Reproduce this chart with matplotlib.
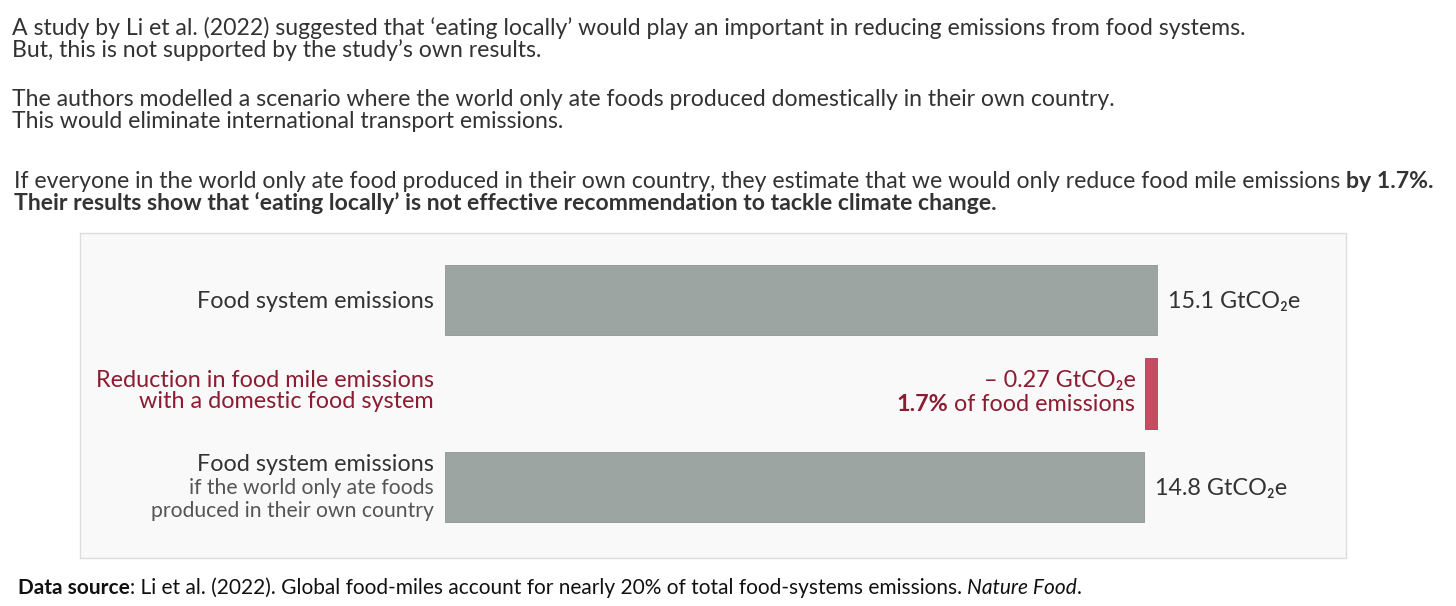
import matplotlib
matplotlib.use("Agg")
import matplotlib.pyplot as plt
from matplotlib.patches import Rectangle

plt.rcParams['font.family'] = ['Lato', 'DejaVu Sans']

# data (GtCO2e)
total_emissions = 15.1
food_mile_cut = 0.27
domestic_emissions = 14.8
cut_share = 1.7

categories = ["Food system emissions",
              "Reduction in food mile emissions\nwith a domestic food system",
              "Food system emissions"]
bottom_note = ["if the world only ate foods", "produced in their own country"]

W, H = 1456, 606
GREY = '#9ca5a2'
RED_BAR = '#c44d62'
RED_TXT = '#8c1c32'
DARK = '#333333'
MID = '#555555'
UNIT = " GtCO\u2082e"


def fx(px):
    return px / W


def fy(py):
    return 1 - py / H


def runs(fig, renderer, x, y, pieces, size, ha='left'):
    """Writes one line made of pieces (text, weight, style, color) on a
    shared baseline at pixel y."""
    if ha == 'right':
        pieces = list(reversed(pieces))
    pos = x
    for txt, wt, st, col in pieces:
        t = fig.text(fx(pos), fy(y), txt, fontsize=size, fontweight=wt,
                     fontstyle=st, color=col, va='baseline', ha=ha)
        bb = t.get_window_extent(renderer)
        pos = bb.x1 if ha == 'left' else bb.x0
    return pos


fig = plt.figure(figsize=(W / 100, H / 100), dpi=100)
fig.patch.set_facecolor('white')
renderer = fig.canvas.get_renderer()

# header text
fs = 16.6
fig.text(fx(12), fy(35), "A study by Li et al. (2022) suggested that \u2018eating locally\u2019 "
         "would play an important in reducing emissions from food systems.",
         fontsize=fs, color=DARK, va='baseline')
fig.text(fx(12), fy(57), "But, this is not supported by the study\u2019s own results.",
         fontsize=fs, color=DARK, va='baseline')
fig.text(fx(12), fy(106), "The authors modelled a scenario where the world only ate foods "
         "produced domestically in their own country.",
         fontsize=fs, color=DARK, va='baseline')
fig.text(fx(12), fy(128), "This would eliminate international transport emissions.",
         fontsize=fs, color=DARK, va='baseline')
runs(fig, renderer, 14, 188, [
    ("If everyone in the world only ate food produced in their own country, "
     "they estimate that we would only reduce food mile emissions ",
     'normal', 'normal', DARK),
    ("by %.1f%%." % cut_share, 'bold', 'normal', DARK)], fs)
fig.text(fx(14), fy(210), "Their results show that \u2018eating locally\u2019 is not "
         "effective recommendation to tackle climate change.",
         fontsize=fs, color=DARK, va='baseline', fontweight='bold')

# panel background
fig.patches.append(Rectangle((fx(80), fy(558)), (1346 - 80) / W, (558 - 233) / H,
                             transform=fig.transFigure, facecolor='#f9f9f9',
                             edgecolor='#dcdcdc', linewidth=1, zorder=-1))

ax = fig.add_axes([fx(445), fy(558), (1158 - 445) / W, (558 - 233) / H])
ax.set_xlim(0, total_emissions)
ax.set_ylim(2.76, -0.717)
ax.axis('off')

ax.barh(0, total_emissions, height=0.75, color=GREY, edgecolor='#8e9794', linewidth=0.6)
ax.barh(1, food_mile_cut, left=total_emissions - food_mile_cut, height=0.75,
        color=RED_BAR, edgecolor='#b03f55', linewidth=0.6)
ax.barh(2, domestic_emissions, height=0.75, color=GREY, edgecolor='#8e9794', linewidth=0.6)

lfs = 16.8
ax.annotate(categories[0], xy=(0, 0), xytext=(-8, -1), textcoords='offset points',
            ha='right', va='center', fontsize=lfs, color=DARK)
ax.annotate(categories[1], xy=(0, 1), xytext=(-8, 2), textcoords='offset points',
            ha='right', va='center', fontsize=lfs, color=RED_TXT, linespacing=1.0)
ax.annotate(categories[2], xy=(0, 2), xytext=(-8, 16), textcoords='offset points',
            ha='right', va='center', fontsize=lfs, color=DARK)
ax.annotate(bottom_note[0], xy=(0, 2), xytext=(-8, -1), textcoords='offset points',
            ha='right', va='center', fontsize=15.2, color=MID)
ax.annotate(bottom_note[1], xy=(0, 2), xytext=(-8, -17), textcoords='offset points',
            ha='right', va='center', fontsize=15.2, color=MID)

ax.annotate("%.1f%s" % (total_emissions, UNIT), xy=(total_emissions, 0),
            xytext=(7, -1), textcoords='offset points', ha='left', va='center',
            fontsize=lfs, color=DARK)
ax.annotate("%.1f%s" % (domestic_emissions, UNIT), xy=(domestic_emissions, 2),
            xytext=(8, -1), textcoords='offset points', ha='left', va='center',
            fontsize=lfs, color=DARK)
ax.annotate("\u2013 %.2f%s" % (food_mile_cut, UNIT),
            xy=(total_emissions - food_mile_cut, 1), xytext=(-7, 9),
            textcoords='offset points', ha='right', va='center',
            fontsize=lfs, color=RED_TXT)
# second line of the red label: bold share then regular text
cut_px = ax.transData.transform((total_emissions - food_mile_cut, 1))
runs(fig, renderer, cut_px[0] - 10, H - cut_px[1] + 18, [
    ("%.1f%%" % cut_share, 'bold', 'normal', RED_TXT),
    (" of food emissions", 'normal', 'normal', RED_TXT)], lfs, ha='right')

# footer
runs(fig, renderer, 18, 594, [
    ("Data source", 'bold', 'normal', '#111111'),
    (": Li et al. (2022). Global food-miles account for nearly 20% of total "
     "food-systems emissions. ", 'normal', 'normal', '#111111'),
    ("Nature Food", 'normal', 'italic', '#111111'),
    (".", 'normal', 'normal', '#111111')], 15)

fig.savefig("out.png", dpi=100)
